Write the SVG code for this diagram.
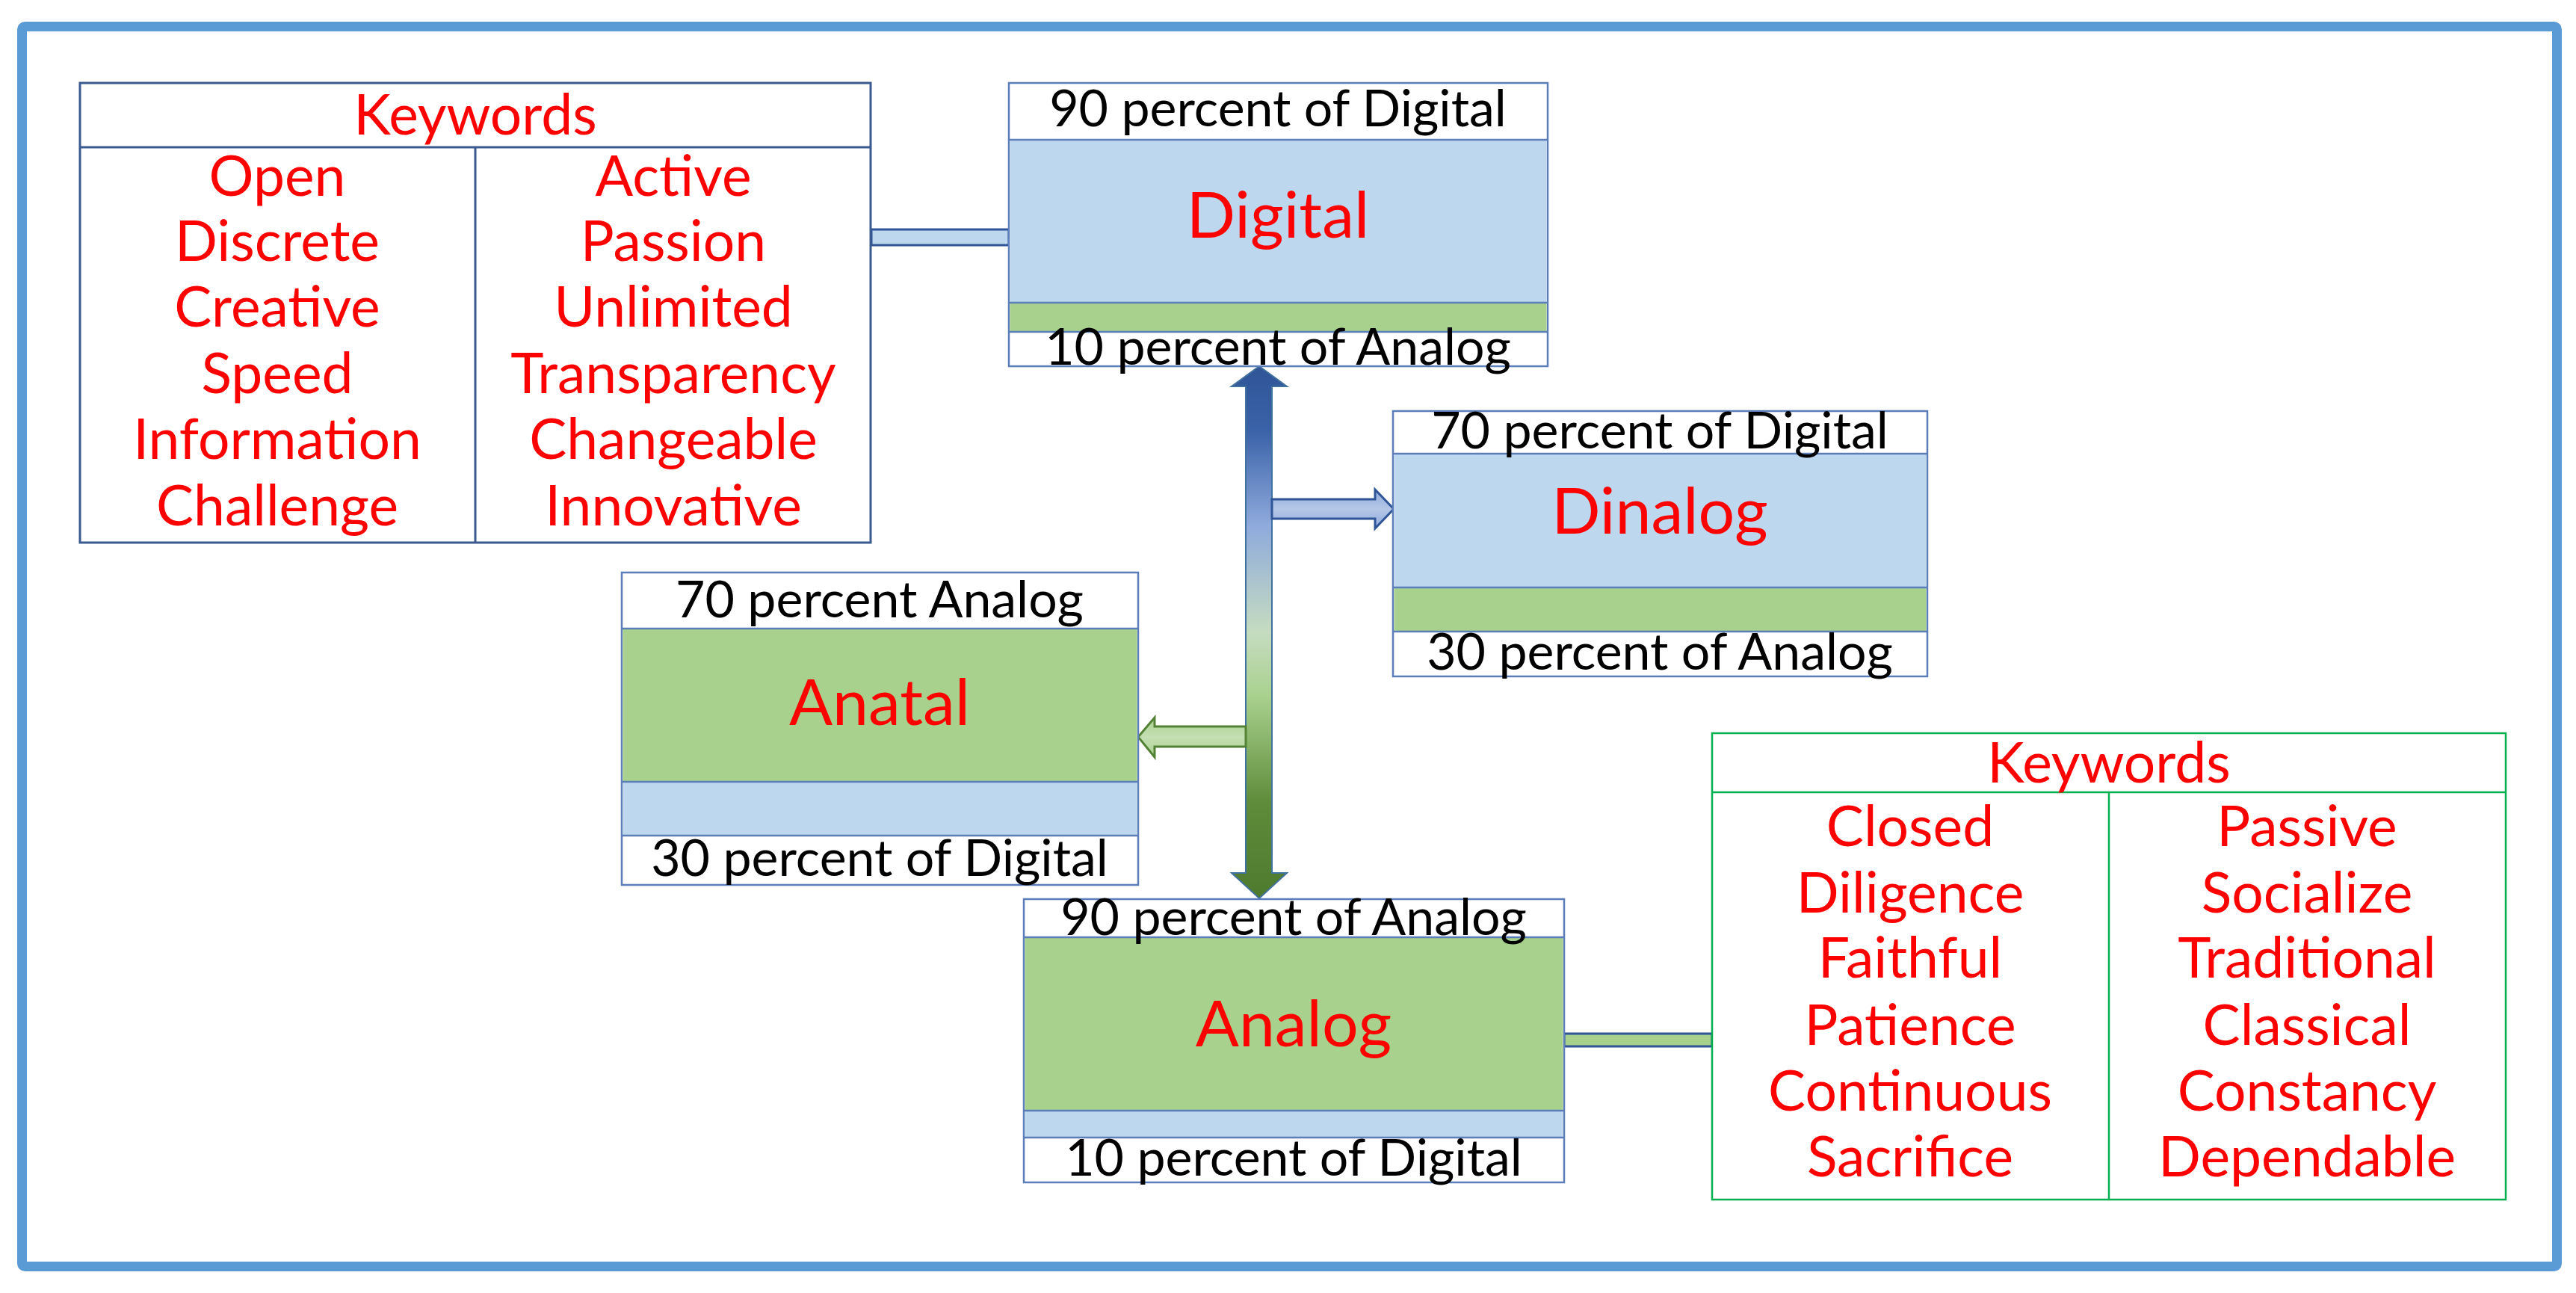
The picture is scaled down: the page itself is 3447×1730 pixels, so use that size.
<svg xmlns="http://www.w3.org/2000/svg" width="3447" height="1730" viewBox="0 0 3447 1730">
<defs>
<linearGradient id="gShaft" x1="0" y1="490" x2="0" y2="1202" gradientUnits="userSpaceOnUse">
<stop offset="0" stop-color="#2F5597"/>
<stop offset="0.12" stop-color="#3A62A8"/>
<stop offset="0.3" stop-color="#8FAADC"/>
<stop offset="0.5" stop-color="#C5DCC0"/>
<stop offset="0.62" stop-color="#A9D18E"/>
<stop offset="0.82" stop-color="#5E8C3A"/>
<stop offset="1" stop-color="#4E7A2E"/>
</linearGradient>
<linearGradient id="gRight" x1="0" y1="0" x2="0" y2="1">
<stop offset="0" stop-color="#8FAADC"/>
<stop offset="0.5" stop-color="#B4C7E7"/>
<stop offset="1" stop-color="#8FAADC"/>
</linearGradient>
<linearGradient id="gLeft" x1="0" y1="0" x2="0" y2="1">
<stop offset="0" stop-color="#A9D18E"/>
<stop offset="0.5" stop-color="#C5E0B4"/>
<stop offset="1" stop-color="#A9D18E"/>
</linearGradient>
</defs>
<style>
.frame{fill:#FFFFFF;stroke:#5B9BD5;stroke-width:13}
.box{fill:#FFFFFF;stroke:#5B7DB8;stroke-width:2.5}
.blue{fill:#BDD7EE}
.green{fill:#A9D18E}
.sep{stroke:#5B7DB8;stroke-width:2.5}
.kw1{fill:#FFFFFF;stroke:#3B5A8F;stroke-width:3}
.kw1l{stroke:#3B5A8F;stroke-width:3}
.kw2{fill:#FFFFFF;stroke:#00B050;stroke-width:2.5}
.kw2l{stroke:#00B050;stroke-width:2.5}
.pct{font-family:Lato,"Liberation Sans",sans-serif;font-size:68px;fill:#000000;text-anchor:middle}
.title{font-family:Lato,"Liberation Sans",sans-serif;font-size:86px;fill:#FF0000;text-anchor:middle}
.kw{font-family:Lato,"Liberation Sans",sans-serif;font-size:75px;fill:#FF0000;text-anchor:middle}
</style>
<rect class="frame" x="29.5" y="35.5" width="3392" height="1659" rx="4"/>

<g id="connectors">
<rect x="1166" y="307" width="184" height="21" fill="#BDD7EE" stroke="#2F5597" stroke-width="3"/>
<rect x="2093" y="1383" width="198" height="17" fill="#A9D18E" stroke="#2F5597" stroke-width="3"/>
<polygon points="1685,490 1722,517 1702,517 1702,1168 1722,1168 1685,1202 1648,1168 1667,1168 1667,517 1648,517" fill="url(#gShaft)" stroke="#41719C" stroke-width="2"/>
<polygon points="1702,668 1840,668 1840,655 1865,681 1840,707 1840,694 1702,694" fill="url(#gRight)" stroke="#2F5597" stroke-width="3"/>
<polygon points="1667,972 1545,972 1545,960 1523,986 1545,1013 1545,999 1667,999" fill="url(#gLeft)" stroke="#548235" stroke-width="3"/>
</g>

<g id="keywords-digital">
<rect class="kw1" x="107" y="111" width="1058" height="615"/>
<line class="kw1l" x1="107" y1="197" x2="1165" y2="197"/>
<line class="kw1l" x1="636" y1="197" x2="636" y2="726"/>
<text class="kw" x="636" y="180">Keywords</text>
<text class="kw" x="371" y="262">Open</text>
<text class="kw" x="371" y="349">Discrete</text>
<text class="kw" x="371" y="437">Creative</text>
<text class="kw" x="371" y="526">Speed</text>
<text class="kw" x="371" y="614">Information</text>
<text class="kw" x="371" y="703">Challenge</text>
<text class="kw" x="901" y="262">Active</text>
<text class="kw" x="901" y="349">Passion</text>
<text class="kw" x="901" y="437">Unlimited</text>
<text class="kw" x="901" y="526">Transparency</text>
<text class="kw" x="901" y="614">Changeable</text>
<text class="kw" x="901" y="703">Innovative</text>
</g>

<g id="digital">
<rect class="box" x="1350" y="111" width="721" height="379"/>
<rect class="blue" x="1351.5" y="187" width="718" height="218"/>
<rect class="green" x="1351.5" y="405" width="718" height="39"/>
<line class="sep" x1="1350" y1="187" x2="2071" y2="187"/>
<line class="sep" x1="1350" y1="405" x2="2071" y2="405"/>
<line class="sep" x1="1350" y1="444" x2="2071" y2="444"/>
<text class="pct" x="1710" y="169">90 percent of Digital</text>
<text class="title" x="1710" y="318">Digital</text>
<text class="pct" x="1710" y="488">10 percent of Analog</text>
</g>

<g id="dinalog">
<rect class="box" x="1864" y="550" width="715" height="355"/>
<rect class="blue" x="1865.5" y="607" width="712" height="179"/>
<rect class="green" x="1865.5" y="786" width="712" height="59"/>
<line class="sep" x1="1864" y1="607" x2="2579" y2="607"/>
<line class="sep" x1="1864" y1="786" x2="2579" y2="786"/>
<line class="sep" x1="1864" y1="845" x2="2579" y2="845"/>
<text class="pct" x="2221" y="600">70 percent of Digital</text>
<text class="title" x="2221" y="714">Dinalog</text>
<text class="pct" x="2221" y="896">30 percent of Analog</text>
</g>

<g id="anatal">
<rect class="box" x="832" y="766" width="691" height="418"/>
<rect class="green" x="833.5" y="841" width="688" height="205"/>
<rect class="blue" x="833.5" y="1046" width="688" height="72"/>
<line class="sep" x1="832" y1="841" x2="1523" y2="841"/>
<line class="sep" x1="832" y1="1046" x2="1523" y2="1046"/>
<line class="sep" x1="832" y1="1118" x2="1523" y2="1118"/>
<text class="pct" x="1177" y="826">70 percent Analog</text>
<text class="title" x="1177" y="970">Anatal</text>
<text class="pct" x="1177" y="1172">30 percent of Digital</text>
</g>

<g id="analog">
<rect class="box" x="1370" y="1203" width="723" height="379"/>
<rect class="green" x="1371.5" y="1254" width="720" height="232"/>
<rect class="blue" x="1371.5" y="1486" width="720" height="36"/>
<line class="sep" x1="1370" y1="1254" x2="2093" y2="1254"/>
<line class="sep" x1="1370" y1="1486" x2="2093" y2="1486"/>
<line class="sep" x1="1370" y1="1522" x2="2093" y2="1522"/>
<text class="pct" x="1731" y="1251">90 percent of Analog</text>
<text class="title" x="1731" y="1400">Analog</text>
<text class="pct" x="1731" y="1573">10 percent of Digital</text>
</g>

<g id="keywords-analog">
<rect class="kw2" x="2291" y="981" width="1062" height="624"/>
<line class="kw2l" x1="2291" y1="1060" x2="3353" y2="1060"/>
<line class="kw2l" x1="2822" y1="1060" x2="2822" y2="1605"/>
<text class="kw" x="2822" y="1047">Keywords</text>
<text class="kw" x="2556" y="1132">Closed</text>
<text class="kw" x="2556" y="1221">Diligence</text>
<text class="kw" x="2556" y="1308">Faithful</text>
<text class="kw" x="2556" y="1398">Patience</text>
<text class="kw" x="2556" y="1486">Continuous</text>
<text class="kw" x="2556" y="1574">Sacrifice</text>
<text class="kw" x="3087" y="1132">Passive</text>
<text class="kw" x="3087" y="1221">Socialize</text>
<text class="kw" x="3087" y="1308">Traditional</text>
<text class="kw" x="3087" y="1398">Classical</text>
<text class="kw" x="3087" y="1486">Constancy</text>
<text class="kw" x="3087" y="1574">Dependable</text>
</g>
</svg>
